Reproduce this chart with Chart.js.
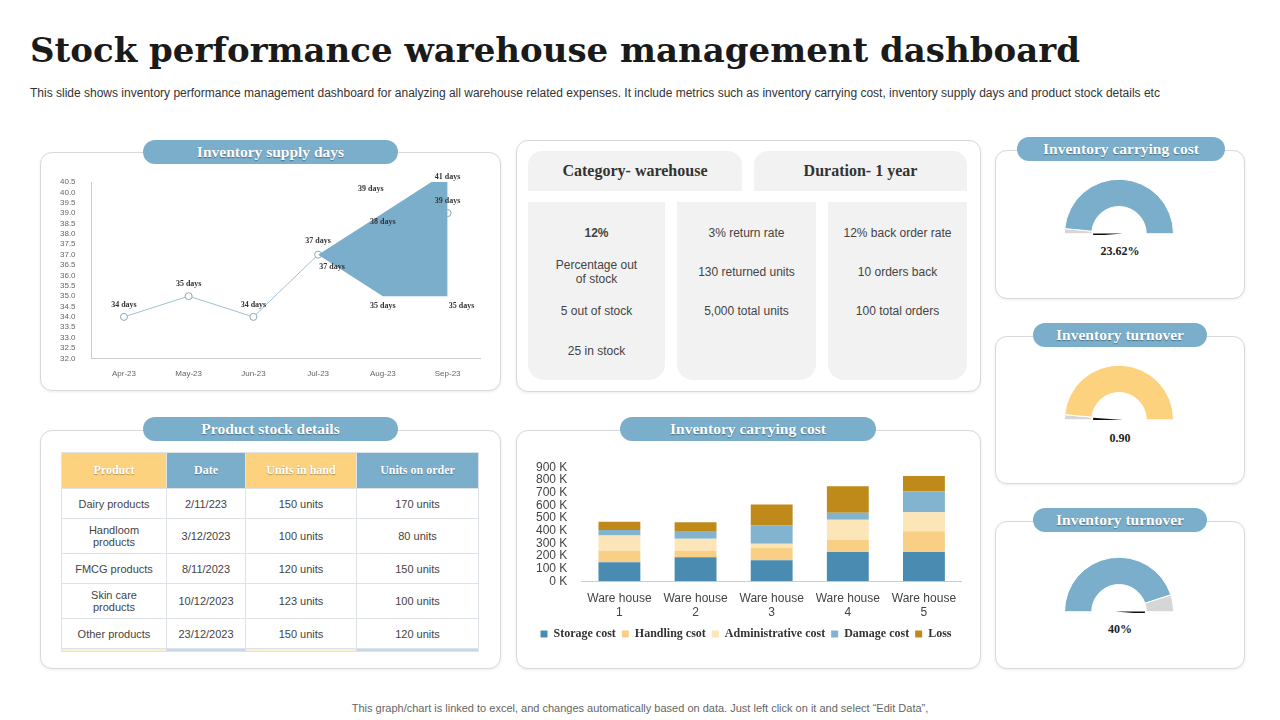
<!DOCTYPE html>
<html><head><meta charset="utf-8">
<script src="https://cdn.jsdelivr.net/npm/chart.js@4.4.0/dist/chart.umd.min.js"></script>
<style>
body{margin:0;width:1280px;height:720px;background:#fff;position:relative;font-family:Arial,"Liberation Sans",sans-serif;overflow:hidden}
.abs{position:absolute}
h1{position:absolute;left:30px;top:30px;margin:0;font-family:"DejaVu Serif",serif;font-size:34px;font-weight:bold;color:#1a1a1a}
.sub{left:30px;top:86px;font-size:12px;color:#333}
.panel{position:absolute;border:1px solid #d9d9d9;border-radius:12px;background:#fff;box-shadow:0 1px 3px rgba(0,0,0,.08)}
.pill{position:absolute;background:#7aaecb;border-radius:12px;color:#fff;font-family:"Liberation Serif",serif;font-weight:bold;font-size:15.5px;text-align:center;text-shadow:0 1px 1px rgba(0,0,0,.35);line-height:24px}
.gh{position:absolute;background:#f2f2f2;border-radius:14px 14px 0 0;font-family:"Liberation Serif",serif;font-weight:bold;font-size:16px;color:#333;text-align:center;line-height:40px}
.col{position:absolute;background:#f2f2f2;border-radius:0 0 16px 16px;font-size:12px;color:#444;text-align:center}
.col div{position:absolute;left:0;right:0}
table{position:absolute;left:61px;top:452px;width:418px;border-collapse:collapse;font-size:11px;color:#444}
td,th{border:1px solid #dde3e8;text-align:center;padding:0}
th{color:#fff;font-family:"Liberation Serif",serif;font-size:12px;height:35px;text-shadow:0 1px 1px rgba(0,0,0,.3)}
.gv{position:absolute;font-family:"Liberation Serif",serif;font-weight:bold;font-size:12px;color:#222;text-align:center;width:248px}
</style></head><body>
<h1>Stock performance warehouse management dashboard</h1>
<div class="abs sub">This slide shows inventory performance management dashboard for analyzing all warehouse related expenses. It include metrics such as inventory carrying cost, inventory supply days and product stock details etc</div>

<div class="panel" style="left:40px;top:152px;width:459px;height:237px"></div>
<div class="pill" style="left:143px;top:140px;width:255px">Inventory supply days</div>
<div class="abs" style="left:52px;top:168px;width:438px;height:214px"><canvas id="line"></canvas></div>

<div class="panel" style="left:516px;top:140px;width:463px;height:250px"></div>
<div class="gh" style="left:528px;top:151px;width:214px">Category- warehouse</div>
<div class="gh" style="left:754px;top:151px;width:213px">Duration- 1 year</div>
<div class="col" style="left:528px;top:202px;width:137px;height:178px"><div style="top:24px;font-weight:bold">12%</div><div style="top:56px">Percentage out<br>of stock</div><div style="top:102px">5 out of stock</div><div style="top:142px">25 in stock</div></div>
<div class="col" style="left:677px;top:202px;width:139px;height:178px"><div style="top:24px">3% return rate</div><div style="top:63px">130 returned units</div><div style="top:102px">5,000 total units</div></div>
<div class="col" style="left:828px;top:202px;width:139px;height:178px"><div style="top:24px">12% back order rate</div><div style="top:63px">10 orders back</div><div style="top:102px">100 total orders</div></div>

<div class="panel" style="left:995px;top:150px;width:248px;height:147px"></div>
<div class="pill" style="left:1017px;top:137px;width:208px">Inventory carrying cost</div>
<div class="abs" style="left:1064px;top:178px;width:110px;height:57px"><canvas id="g0"></canvas></div>
<div class="gv" style="left:996px;top:244px">23.62%</div>
<div class="panel" style="left:995px;top:336px;width:248px;height:146px"></div>
<div class="pill" style="left:1033px;top:323px;width:174px">Inventory turnover</div>
<div class="abs" style="left:1064px;top:364px;width:110px;height:57px"><canvas id="g1"></canvas></div>
<div class="gv" style="left:996px;top:431px">0.90</div>
<div class="panel" style="left:995px;top:521px;width:248px;height:146px"></div>
<div class="pill" style="left:1033px;top:508px;width:174px">Inventory turnover</div>
<div class="abs" style="left:1064px;top:556px;width:110px;height:57px"><canvas id="g2"></canvas></div>
<div class="gv" style="left:996px;top:622px">40%</div>

<div class="panel" style="left:40px;top:430px;width:459px;height:237px"></div>
<div class="pill" style="left:143px;top:417px;width:255px">Product stock details</div>
<table id="tbl"></table>

<div class="panel" style="left:516px;top:430px;width:463px;height:237px"></div>
<div class="pill" style="left:620px;top:417px;width:256px">Inventory carrying cost</div>
<div class="abs" style="left:530px;top:454px;width:432px;height:196px"><canvas id="bar"></canvas></div>

<div class="abs" style="left:0;width:1280px;top:702px;text-align:center;font-size:11px;color:#666">This graph/chart is linked to excel,  and changes automatically based on data. Just left click on it and select “Edit Data”,</div>
<script>
const months=["Apr-23","May-23","Jun-23","Jul-23","Aug-23","Sep-23"];
const supplyDays=[34,35,34,37,38,39];
const upperDays=[null,null,null,37,39,41];
const lowerDays=[null,null,null,37,35,35];
const yTicks=[32,40.5];
const warehouses=[["Ware house","1"],["Ware house","2"],["Ware house","3"],["Ware house","4"],["Ware house","5"]];
const storage=[150,190,165,230,230];
const handling=[90,50,100,95,165];
const admin=[120,95,30,160,150];
const damage=[45,55,145,55,165];
const loss=[65,75,165,210,120];
const products=["Dairy products","Handloom<br>products","FMCG  products","Skin care<br>products","Other products"];
const dates=["2/11/223","3/12/2023","8/11/2023","10/12/2023","23/12/2023"];
const inHand=["150 units","100 units","120 units","123 units","150 units"];
const onOrder=["170 units","80 units","150 units","100 units","120 units"];
const gaugeValues=[[3,97],[3,97],[90,10]];
const gaugeColors=[["#d6d6d6","#7aaecb"],["#d6d6d6","#fdd27e"],["#7aaecb","#d6d6d6"]];
const needleAngles=[182,178,-2];

let h='<tr><th style="background:#fdd27e;width:104px">Product</th><th style="background:#7aaecb;width:78px">Date</th><th style="background:#fdd27e;width:110px">Units in hand</th><th style="background:#7aaecb">Units on order</th></tr>';
const rh=[30,35,30,35,30];
products.forEach((p,i)=>{h+=`<tr style="height:${rh[i]}px"><td>${p}</td><td>${dates[i]}</td><td>${inHand[i]}</td><td>${onOrder[i]}</td></tr>`});
h+='<tr style="height:3px"><td style="background:#fdf0d0"></td><td style="background:#c5d8e4"></td><td style="background:#fdf0d0"></td><td style="background:#c5d8e4"></td></tr>';
document.getElementById('tbl').innerHTML=h;

Chart.defaults.animation=false;
const serif='"Liberation Serif", serif';
const lblPlugin={id:'lbl',afterDatasetsDraw(c){const ctx=c.ctx;ctx.save();ctx.font='bold 8px '+serif;ctx.fillStyle='#333';ctx.textAlign='center';
 const put=(di,i,dy,dx=0,yy)=>{const m=c.getDatasetMeta(di).data[i];ctx.fillText(c.data.datasets[di].data[i]+' days',m.x+dx,yy!==undefined?yy:m.y+dy)};
 [0,1,2].forEach(i=>put(2,i,-10));
 put(0,3,-12);put(0,4,-22,-12);put(0,5,0,0,c.chartArea.top-3);
 put(1,3,14,14);put(1,4,12);put(1,5,12,14);
 put(2,4,-10);put(2,5,-10);
 ctx.restore();}};
new Chart('line',{type:'line',data:{labels:months,datasets:[
 {data:upperDays,borderWidth:0,pointRadius:0,backgroundColor:'#7aaecb',fill:'+1'},
 {data:lowerDays,borderWidth:0,pointRadius:0,fill:false},
 {data:supplyDays,borderColor:'#9fc0d2',borderWidth:1,pointRadius:3.5,pointBackgroundColor:'#fff',pointBorderColor:'#8aa8b8',fill:false}]},
 options:{responsive:true,maintainAspectRatio:false,plugins:{legend:{display:false},tooltip:{enabled:false}},
 layout:{padding:{top:14,right:10}},
 scales:{y:{min:yTicks[0],max:yTicks[1],ticks:{stepSize:0.5,autoSkip:false,font:{size:8},color:'#666',padding:8,callback:v=>v.toFixed(1)},grid:{display:false},border:{color:'#ccc'}},
 x:{offset:true,ticks:{font:{size:8},color:'#666'},grid:{display:false},border:{color:'#ccc'}}}},plugins:[lblPlugin]});

new Chart('bar',{type:'bar',data:{labels:warehouses,datasets:[
 {label:'Storage cost',data:storage,backgroundColor:'#4a8bb2'},
 {label:'Handling csot',data:handling,backgroundColor:'#f9cf86'},
 {label:'Administrative cost',data:admin,backgroundColor:'#fce5b6'},
 {label:'Damage cost',data:damage,backgroundColor:'#82b3cf'},
 {label:'Loss',data:loss,backgroundColor:'#c08a1a'}]},
 options:{responsive:true,maintainAspectRatio:false,plugins:{tooltip:{enabled:false},legend:{position:'bottom',labels:{boxWidth:7,boxHeight:7,padding:6,font:{family:serif,size:12,weight:'bold'},color:'#333'}}},
 datasets:{bar:{categoryPercentage:0.55,barPercentage:1}},
 scales:{x:{stacked:true,grid:{display:false},border:{color:'#ccc'},ticks:{font:{size:12},color:'#444',padding:2}},
 y:{stacked:true,min:0,max:900,ticks:{stepSize:100,autoSkip:false,font:{size:12},color:'#444',padding:6,callback:v=>v+' K'},grid:{display:false},border:{display:false}}}}});

const needle={id:'needle',afterDatasetsDraw(c){const m=c.getDatasetMeta(0).data[0];const a=c.options.plugins.needle.angle*Math.PI/180;const ctx=c.ctx;
 ctx.save();ctx.translate(m.x,m.y);ctx.rotate(-a);ctx.beginPath();ctx.moveTo(-4,0);ctx.lineTo(m.innerRadius*0.95,-1.2);ctx.lineTo(m.innerRadius*0.95,1.2);ctx.closePath();ctx.fillStyle='#111';ctx.fill();ctx.restore();}};
gaugeValues.forEach((v,i)=>{new Chart('g'+i,{type:'doughnut',data:{datasets:[{data:v,backgroundColor:gaugeColors[i],borderWidth:1,borderColor:'#fff'}]},
 options:{responsive:true,maintainAspectRatio:false,rotation:-90,circumference:180,cutout:'50%',layout:{padding:{bottom:0}},
 plugins:{legend:{display:false},tooltip:{enabled:false},needle:{angle:needleAngles[i]}}},plugins:[needle]});});
</script></body></html>
